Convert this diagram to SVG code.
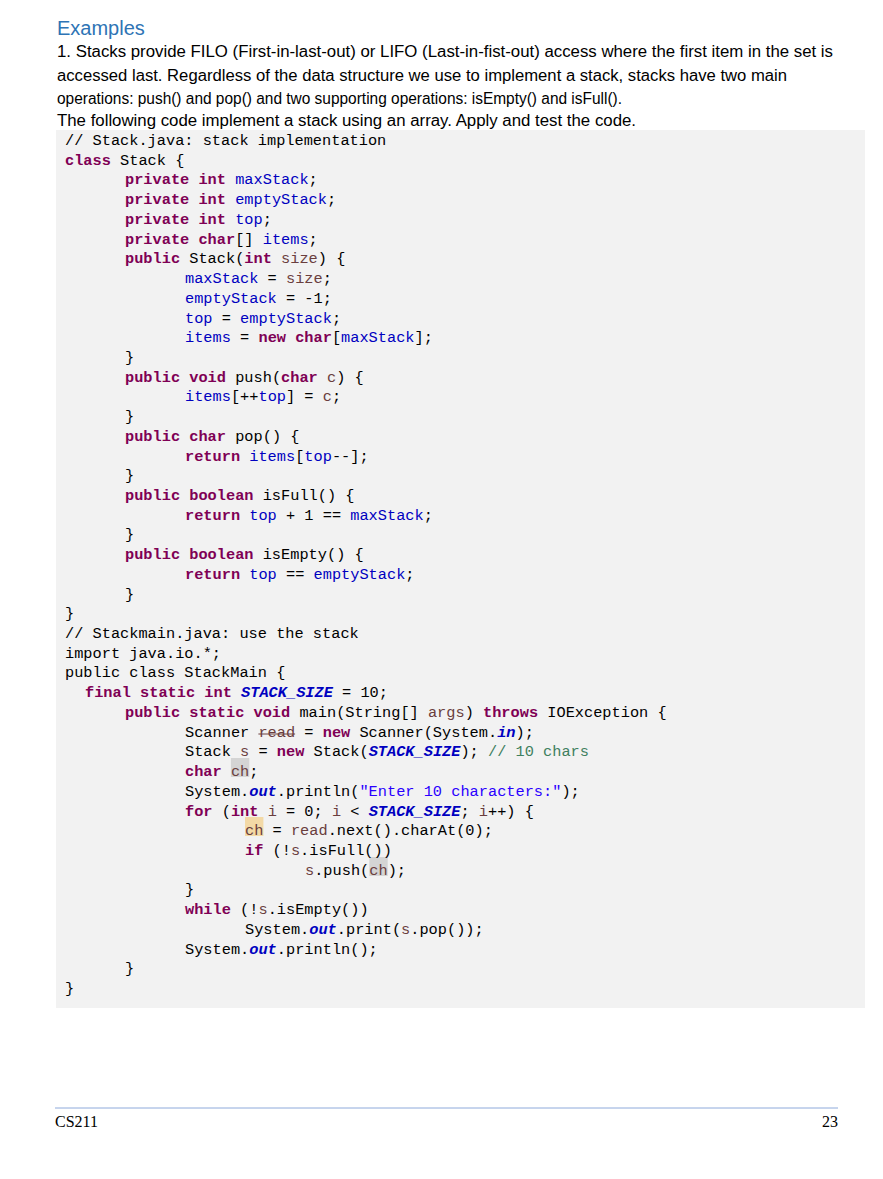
<svg xmlns="http://www.w3.org/2000/svg" width="883" height="1179" viewBox="0 0 883 1179">
<style>
.b{font-family:"Liberation Sans","Open Sans",sans-serif;font-size:16px;fill:#000}
.m{font-family:"Liberation Mono","DejaVu Sans Mono",monospace;font-size:15.3px;fill:#000;white-space:pre}
.k{fill:#7f0055;font-weight:bold}
.f{fill:#0000c0}
.p{fill:#6a3e3e}
.c{fill:#3f7f5f}
.s{fill:#2a00ff}
.sf{fill:#0000c0;font-weight:bold;font-style:italic}
</style>
<rect width="883" height="1179" fill="#fff"/>
<g id="header">
<text x="57" y="35" font-family="Liberation Sans,sans-serif" font-size="20" fill="#2e74b5">Examples</text>
<text class="b" x="57" y="57" textLength="776" lengthAdjust="spacingAndGlyphs">1.  Stacks provide FILO (First-in-last-out) or LIFO (Last-in-fist-out) access where the first item in the set is</text>
<text class="b" x="57" y="81" textLength="730" lengthAdjust="spacingAndGlyphs">accessed last. Regardless of the data structure we use to implement a stack, stacks have two main</text>
<text class="b" x="57" y="104" textLength="565" lengthAdjust="spacingAndGlyphs">operations: push() and pop() and two supporting operations: isEmpty() and isFull().</text>
<text class="b" x="57" y="126" textLength="579" lengthAdjust="spacingAndGlyphs">The following code implement a stack using an array. Apply and test the code.</text>
</g>
<g id="code">
<rect x="56" y="130" width="809" height="878" fill="#f2f2f2"/>
<rect x="230.9" y="758" width="18.4" height="19" fill="#d4d4d4"/>
<rect x="245" y="817" width="18.4" height="19" fill="#f3d9a6"/>
<rect x="369.3" y="857" width="18.4" height="19" fill="#d4d4d4"/>
<line x1="258.4" y1="734" x2="295.1" y2="734" stroke="#6a3e3e" stroke-width="1"/>
<text class="m" xml:space="preserve">
<tspan x="65" y="145">// Stack.java: stack implementation</tspan>
<tspan x="65" y="164.7"><tspan class="k">class</tspan> Stack {</tspan>
<tspan x="125" y="184.4"><tspan class="k">private int</tspan> <tspan class="f">maxStack</tspan>;</tspan>
<tspan x="125" y="204.2"><tspan class="k">private int</tspan> <tspan class="f">emptyStack</tspan>;</tspan>
<tspan x="125" y="223.9"><tspan class="k">private int</tspan> <tspan class="f">top</tspan>;</tspan>
<tspan x="125" y="243.6"><tspan class="k">private char</tspan>[] <tspan class="f">items</tspan>;</tspan>
<tspan x="125" y="263.3"><tspan class="k">public</tspan> Stack(<tspan class="k">int</tspan> <tspan class="p">size</tspan>) {</tspan>
<tspan x="185" y="283"><tspan class="f">maxStack</tspan> = <tspan class="p">size</tspan>;</tspan>
<tspan x="185" y="302.8"><tspan class="f">emptyStack</tspan> = -1;</tspan>
<tspan x="185" y="322.5"><tspan class="f">top</tspan> = <tspan class="f">emptyStack</tspan>;</tspan>
<tspan x="185" y="342.2"><tspan class="f">items</tspan> = <tspan class="k">new char</tspan>[<tspan class="f">maxStack</tspan>];</tspan>
<tspan x="125" y="361.9">}</tspan>
<tspan x="125" y="381.6"><tspan class="k">public void</tspan> push(<tspan class="k">char</tspan> <tspan class="p">c</tspan>) {</tspan>
<tspan x="185" y="401.4"><tspan class="f">items</tspan>[++<tspan class="f">top</tspan>] = <tspan class="p">c</tspan>;</tspan>
<tspan x="125" y="421.1">}</tspan>
<tspan x="125" y="440.8"><tspan class="k">public char</tspan> pop() {</tspan>
<tspan x="185" y="460.5"><tspan class="k">return</tspan> <tspan class="f">items</tspan>[<tspan class="f">top</tspan>--];</tspan>
<tspan x="125" y="480.2">}</tspan>
<tspan x="125" y="500"><tspan class="k">public boolean</tspan> isFull() {</tspan>
<tspan x="185" y="519.7"><tspan class="k">return</tspan> <tspan class="f">top</tspan> + 1 == <tspan class="f">maxStack</tspan>;</tspan>
<tspan x="125" y="539.4">}</tspan>
<tspan x="125" y="559.1"><tspan class="k">public boolean</tspan> isEmpty() {</tspan>
<tspan x="185" y="578.8"><tspan class="k">return</tspan> <tspan class="f">top</tspan> == <tspan class="f">emptyStack</tspan>;</tspan>
<tspan x="125" y="598.6">}</tspan>
<tspan x="65" y="618.3">}</tspan>
<tspan x="65" y="638">// Stackmain.java: use the stack</tspan>
<tspan x="65" y="657.7">import java.io.*;</tspan>
<tspan x="65" y="677.4">public class StackMain {</tspan>
<tspan x="85" y="697.2"><tspan class="k">final static int</tspan> <tspan class="sf">STACK_SIZE</tspan> = 10;</tspan>
<tspan x="125" y="716.9"><tspan class="k">public static void</tspan> main(String[] <tspan class="p">args</tspan>) <tspan class="k">throws</tspan> IOException {</tspan>
<tspan x="185" y="736.6">Scanner <tspan class="p">read</tspan> = <tspan class="k">new</tspan> Scanner(System.<tspan class="sf">in</tspan>);</tspan>
<tspan x="185" y="756.3">Stack <tspan class="p">s</tspan> = <tspan class="k">new</tspan> Stack(<tspan class="sf">STACK_SIZE</tspan>); <tspan class="c">// 10 chars</tspan></tspan>
<tspan x="185" y="776"><tspan class="k">char</tspan> <tspan class="p">ch</tspan>;</tspan>
<tspan x="185" y="795.8">System.<tspan class="sf">out</tspan>.println(<tspan class="s">"Enter 10 characters:"</tspan>);</tspan>
<tspan x="185" y="815.5"><tspan class="k">for</tspan> (<tspan class="k">int</tspan> <tspan class="p">i</tspan> = 0; <tspan class="p">i</tspan> &lt; <tspan class="sf">STACK_SIZE</tspan>; <tspan class="p">i</tspan>++) {</tspan>
<tspan x="245" y="835.2"><tspan class="p">ch</tspan> = <tspan class="p">read</tspan>.next().charAt(0);</tspan>
<tspan x="245" y="854.9"><tspan class="k">if</tspan> (!<tspan class="p">s</tspan>.isFull())</tspan>
<tspan x="305" y="874.6"><tspan class="p">s</tspan>.push(<tspan class="p">ch</tspan>);</tspan>
<tspan x="185" y="894.4">}</tspan>
<tspan x="185" y="914.1"><tspan class="k">while</tspan> (!<tspan class="p">s</tspan>.isEmpty())</tspan>
<tspan x="245" y="933.8">System.<tspan class="sf">out</tspan>.print(<tspan class="p">s</tspan>.pop());</tspan>
<tspan x="185" y="953.5">System.<tspan class="sf">out</tspan>.println();</tspan>
<tspan x="125" y="973.2">}</tspan>
<tspan x="65" y="993">}</tspan>
</text>
</g>
<g id="footer">
<line x1="55" y1="1108" x2="838" y2="1108" stroke="#8eaadb" stroke-width="1"/>
<text x="55" y="1127" font-family="Liberation Serif,serif" font-size="16">CS211</text>
<text x="838" y="1127" text-anchor="end" font-family="Liberation Serif,serif" font-size="16">23</text>
</g>
</svg>
